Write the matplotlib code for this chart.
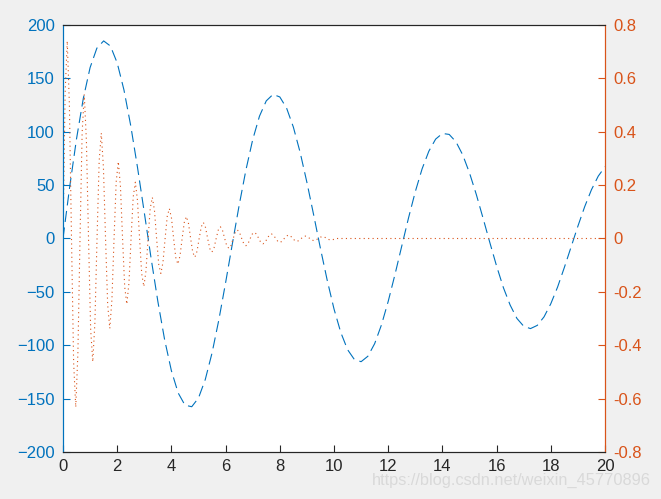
import matplotlib
matplotlib.use('Agg')
import matplotlib.pyplot as plt
import numpy as np

plt.rcParams['font.family'] = ['Liberation Sans', 'DejaVu Sans']
plt.rcParams['lines.scale_dashes'] = False

# left axis: damped slow oscillation, read every 0.25 on x from 0 to 20
x1_step = 0.25
y1 = [0, 48.9, 93.5, 131.3, 160.1, 178.3, 185.1, 180.3, 164.5, 139.1,
      105.6, 66.5, 24.3, -18.4, -58.9, -94.8, -123.9, -144.7, -156.1, -157.6,
      -149.4, -132.1, -107.2, -76.3, -41.4, -4.9, 31.1, 64.2, 92.6, 114.6,
      128.9, 135.0, 132.6, 122.2, 104.4, 80.7, 52.6, 22.0, -9.4, -39.2,
      -66.0, -88.0, -104.1, -113.3, -115.4, -110.3, -98.5, -81.0, -58.9, -33.7,
      -7.1, 19.3, 43.9, 65.2, 81.8, 93.1, 98.4, 97.5, 90.6, 78.3,
      61.4, 41.3, 19.0, -3.8, -25.9, -46.0, -62.4, -74.9, -82.2, -84.4,
      -81.4, -73.4, -61.1, -45.5, -27.1, -7.8, 11.6, 29.8, 45.7, 58.4,
      67.2]

# right axis: fast damped oscillation, 4 samples per half period (0.314)
half_period = 0.314
y2 = [0, 0.544, 0.740, 0.503, 0, -0.465, -0.632, -0.430,
      0, 0.397, 0.540, 0.367, 0, -0.340, -0.462, -0.314,
      0, 0.290, 0.395, 0.268, 0, -0.248, -0.337, -0.229,
      0, 0.212, 0.288, 0.196, 0, -0.181, -0.246, -0.167,
      0, 0.155, 0.211, 0.143, 0, -0.132, -0.180, -0.122,
      0, 0.113, 0.154, 0.105, 0, -0.097, -0.131, -0.089,
      0, 0.083, 0.112, 0.076, 0, -0.071, -0.096, -0.065,
      0, 0.060, 0.082, 0.056, 0, -0.052, -0.070, -0.048,
      0, 0.044, 0.060, 0.041, 0, -0.038, -0.051, -0.035,
      0, 0.032, 0.044, 0.030, 0, -0.028, -0.037, -0.026,
      0, 0.024, 0.032, 0.022, 0, -0.020, -0.027, -0.019,
      0, 0.017, 0.023, 0.016, 0, -0.015, -0.020, -0.014,
      0, 0.013, 0.017, 0.012, 0, -0.011, -0.015, -0.010,
      0, 0.009, 0.013, 0.009, 0, -0.008, -0.011, -0.007,
      0, 0.007, 0.009, 0.006, 0, -0.006, -0.008, -0.005,
      0, 0.005, 0.007, 0.005, 0, -0.004, -0.006, -0.004,
      0, 0]
x2_end = 20

x_ticks = [0, 2, 4, 6, 8, 10, 12, 14, 16, 18, 20]
left_ticks = [-200, -150, -100, -50, 0, 50, 100, 150, 200]
right_ticks = [-0.8, -0.6, -0.4, -0.2, 0, 0.2, 0.4, 0.6, 0.8]
right_labels = ['-0.8', '-0.6', '-0.4', '-0.2', '0', '0.2', '0.4', '0.6', '0.8']

blue = '#0072BD'
orange = '#D95319'
dark = '#262626'

x1 = np.arange(len(y1)) * x1_step
x2 = np.append(np.arange(len(y2) - 1) * half_period / 4, x2_end)

fig = plt.figure(figsize=(6.61, 4.99), dpi=100, facecolor='#f0f0f0')
ax = fig.add_axes([0.0953, 0.0942, 0.82, 0.8557])
ax2 = ax.twinx()

ax.plot(x1, y1, color=blue, lw=0.8, dashes=(8, 4))
ax2.plot(x2, y2, color=orange, lw=0.8, dashes=(0.8, 2.4))

ax.set_xlim(0, 20)
ax.set_ylim(-200, 200)
ax2.set_ylim(-0.8, 0.8)
ax.set_xticks(x_ticks)
ax.set_yticks(left_ticks)
ax2.set_yticks(right_ticks)
ax2.set_yticklabels(right_labels)

ax.tick_params(axis='x', direction='in', length=5, width=0.8, colors=dark,
               labelsize=12, pad=5, top=False)
ax.tick_params(axis='y', direction='in', length=5, width=0.8, colors=blue,
               labelsize=12, pad=6)
ax2.tick_params(axis='y', direction='in', length=5, width=0.8, colors=orange,
                labelsize=12, pad=6)

for a in (ax, ax2):
    a.spines['top'].set_color(dark)
    a.spines['bottom'].set_color(dark)
    a.spines['left'].set_color(blue)
    a.spines['right'].set_color(orange)
    for s in a.spines.values():
        s.set_linewidth(0.8)

fig.text(0.984, 0.038, 'https://blog.csdn.net/weixin_45770896', ha='right',
         va='center', fontsize=11.8, color='#d9d9d9')

fig.savefig('out.png', dpi=100, facecolor=fig.get_facecolor())
